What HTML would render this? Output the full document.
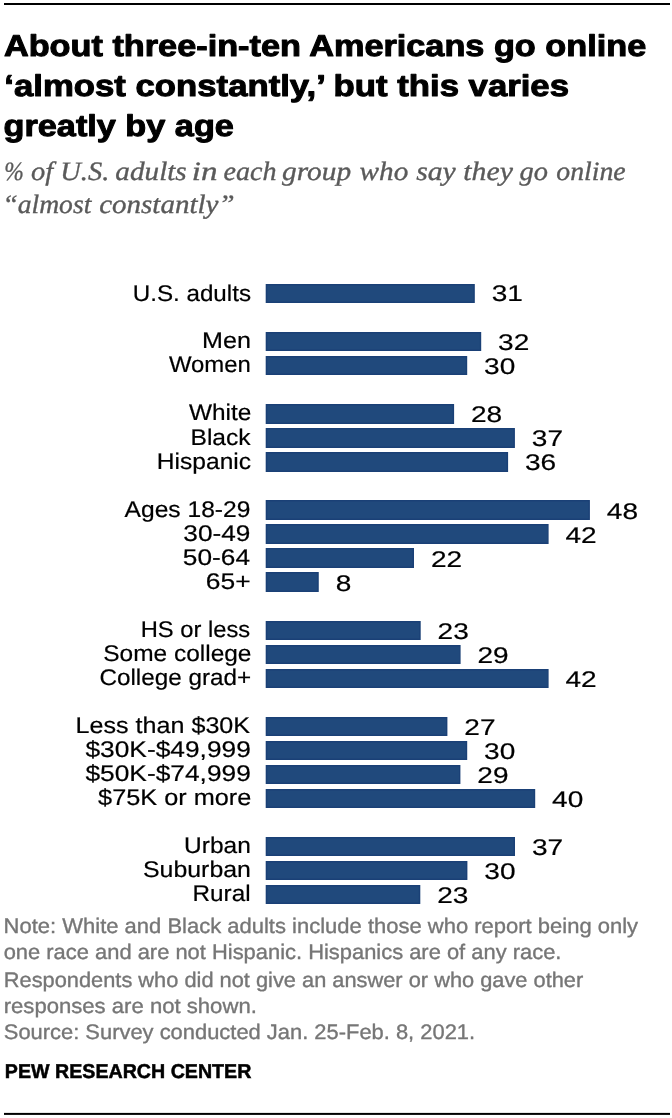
<!DOCTYPE html>
<html lang="en">
<head>
<meta charset="utf-8">
<title>About three-in-ten Americans go online almost constantly</title>
<style>
html,body{margin:0;padding:0;background:#fff;}
body{width:672px;height:1118px;overflow:hidden;}
svg{display:block;}
text{font-family:"Liberation Sans",sans-serif;text-rendering:geometricPrecision;}
.ttl{font-weight:bold;font-size:30.2px;fill:#000;stroke:#000;stroke-width:1px;stroke-linejoin:round;}
.sub{font-family:"Liberation Serif","DejaVu Serif",serif;font-style:italic;font-size:26.5px;fill:#5a5a5a;stroke:#5a5a5a;stroke-width:0.35px;}
.lab{font-size:22.7px;fill:#000;stroke:#000;stroke-width:0.2px;}
.note{font-size:21px;fill:#767676;stroke:#767676;stroke-width:0.35px;}
.pew{font-weight:bold;font-size:20px;fill:#000;stroke:#000;stroke-width:0.5px;}
.bar{fill:#20497c;stroke:#1a4076;stroke-width:1.4px;}
</style>
</head>
<body>
<svg width="672" height="1118" viewBox="0 0 672 1118">
<rect x="0" y="0" width="672" height="1118" fill="#ffffff"/>
<rect x="4" y="3" width="666" height="2" fill="#000"/>
<rect x="4" y="1112.9" width="666" height="2" fill="#000"/>
<g class="bars">
<rect class="bar" x="266.40" y="284.7" width="207.70" height="17.6"/>
<rect class="bar" x="266.40" y="332.7" width="214.10" height="17.6"/>
<rect class="bar" x="266.40" y="356.7" width="200.10" height="17.6"/>
<rect class="bar" x="266.40" y="404.7" width="187.00" height="18.6"/>
<rect class="bar" x="266.40" y="428.7" width="247.80" height="18.6"/>
<rect class="bar" x="266.40" y="452.7" width="241.00" height="18.6"/>
<rect class="bar" x="266.40" y="500.7" width="322.80" height="18.6"/>
<rect class="bar" x="266.40" y="524.7" width="281.50" height="18.6"/>
<rect class="bar" x="266.40" y="548.7" width="146.90" height="18.6"/>
<rect class="bar" x="266.40" y="572.7" width="51.65" height="18.6"/>
<rect class="bar" x="266.40" y="621.7" width="153.60" height="17.6"/>
<rect class="bar" x="266.40" y="645.7" width="193.50" height="17.6"/>
<rect class="bar" x="266.40" y="669.7" width="281.50" height="17.6"/>
<rect class="bar" x="266.40" y="717.7" width="180.30" height="17.6"/>
<rect class="bar" x="266.40" y="741.7" width="200.10" height="17.6"/>
<rect class="bar" x="266.40" y="765.7" width="193.30" height="17.6"/>
<rect class="bar" x="266.40" y="789.7" width="268.10" height="17.6"/>
<rect class="bar" x="266.40" y="837.7" width="247.90" height="17.6"/>
<rect class="bar" x="266.40" y="861.7" width="200.30" height="17.6"/>
<rect class="bar" x="266.40" y="885.7" width="153.20" height="17.6"/>
</g>
<g class="heading">
<text id="t1" class="ttl" x="3.95" y="56.40" textLength="642.29" lengthAdjust="spacingAndGlyphs">About three-in-ten Americans go online</text>
<text id="t2" class="ttl" x="4.39" y="96.40" textLength="564.61" lengthAdjust="spacingAndGlyphs">‘almost constantly,’ but this varies</text>
<text id="t3" class="ttl" x="3.54" y="136.40" textLength="230.35" lengthAdjust="spacingAndGlyphs">greatly by age</text>
<text id="s1_0" class="sub" x="4.28" y="180.40" textLength="19.51" lengthAdjust="spacingAndGlyphs">%</text>
<text id="s1_1" class="sub" x="31.06" y="180.40" textLength="78.28" lengthAdjust="spacingAndGlyphs">of U.S.</text>
<text id="s1_3" class="sub" x="115.39" y="180.40" textLength="71.36" lengthAdjust="spacingAndGlyphs">adults</text>
<text id="s1_4" class="sub" x="191.71" y="180.40" textLength="25.70" lengthAdjust="spacingAndGlyphs">in</text>
<text id="s1_5" class="sub" x="223.43" y="180.40" textLength="53.03" lengthAdjust="spacingAndGlyphs">each</text>
<text id="s1_6" class="sub" x="282.11" y="180.40" textLength="69.04" lengthAdjust="spacingAndGlyphs">group</text>
<text id="s1_7" class="sub" x="359.59" y="180.40" textLength="48.73" lengthAdjust="spacingAndGlyphs">who</text>
<text id="s1_8" class="sub" x="416.19" y="180.40" textLength="39.55" lengthAdjust="spacingAndGlyphs">say</text>
<text id="s1_9" class="sub" x="463.37" y="180.40" textLength="49.55" lengthAdjust="spacingAndGlyphs">they</text>
<text id="s1_10" class="sub" x="519.42" y="180.40" textLength="28.44" lengthAdjust="spacingAndGlyphs">go</text>
<text id="s1_11" class="sub" x="556.24" y="180.40" textLength="69.47" lengthAdjust="spacingAndGlyphs">online</text>
<text id="s2_0" class="sub" x="2.41" y="212.60" textLength="88.90" lengthAdjust="spacingAndGlyphs">“almost</text>
<text id="s2_1" class="sub" x="99.20" y="212.60" textLength="135.37" lengthAdjust="spacingAndGlyphs">constantly”</text>
</g>
<g class="chart-labels">
<text id="l0" class="lab" x="132.75" y="301.00" textLength="118.22" lengthAdjust="spacingAndGlyphs">U.S. adults</text>
<text id="v0" class="lab" x="491.70" y="301.00" textLength="31.20" lengthAdjust="spacingAndGlyphs">31</text>
<text id="l1" class="lab" x="202.04" y="348.00" textLength="48.87" lengthAdjust="spacingAndGlyphs">Men</text>
<text id="v1" class="lab" x="498.10" y="350.00" textLength="31.20" lengthAdjust="spacingAndGlyphs">32</text>
<text id="l2" class="lab" x="168.92" y="372.00" textLength="81.91" lengthAdjust="spacingAndGlyphs">Women</text>
<text id="v2" class="lab" x="484.10" y="374.00" textLength="31.20" lengthAdjust="spacingAndGlyphs">30</text>
<text id="l3" class="lab" x="189.06" y="420.00" textLength="62.34" lengthAdjust="spacingAndGlyphs">White</text>
<text id="v3" class="lab" x="471.00" y="422.00" textLength="31.20" lengthAdjust="spacingAndGlyphs">28</text>
<text id="l4" class="lab" x="190.48" y="445.00" textLength="60.21" lengthAdjust="spacingAndGlyphs">Black</text>
<text id="v4" class="lab" x="531.80" y="446.00" textLength="31.20" lengthAdjust="spacingAndGlyphs">37</text>
<text id="l5" class="lab" x="156.89" y="469.00" textLength="94.20" lengthAdjust="spacingAndGlyphs">Hispanic</text>
<text id="v5" class="lab" x="525.00" y="470.00" textLength="31.20" lengthAdjust="spacingAndGlyphs">36</text>
<text id="l6" class="lab" x="124.61" y="517.00" textLength="125.74" lengthAdjust="spacingAndGlyphs">Ages 18-29</text>
<text id="v6" class="lab" x="606.80" y="519.00" textLength="31.20" lengthAdjust="spacingAndGlyphs">48</text>
<text id="l7" class="lab" x="183.37" y="541.00" textLength="66.97" lengthAdjust="spacingAndGlyphs">30-49</text>
<text id="v7" class="lab" x="565.50" y="543.00" textLength="31.20" lengthAdjust="spacingAndGlyphs">42</text>
<text id="l8" class="lab" x="182.86" y="565.00" textLength="67.12" lengthAdjust="spacingAndGlyphs">50-64</text>
<text id="v8" class="lab" x="430.90" y="567.00" textLength="31.20" lengthAdjust="spacingAndGlyphs">22</text>
<text id="l9" class="lab" x="205.86" y="589.00" textLength="44.80" lengthAdjust="spacingAndGlyphs">65+</text>
<text id="v9" class="lab" x="335.65" y="591.00" textLength="15.60" lengthAdjust="spacingAndGlyphs">8</text>
<text id="l10" class="lab" x="140.71" y="637.00" textLength="109.50" lengthAdjust="spacingAndGlyphs">HS or less</text>
<text id="v10" class="lab" x="437.60" y="639.00" textLength="31.20" lengthAdjust="spacingAndGlyphs">23</text>
<text id="l11" class="lab" x="103.23" y="661.00" textLength="148.26" lengthAdjust="spacingAndGlyphs">Some college</text>
<text id="v11" class="lab" x="477.50" y="663.00" textLength="31.20" lengthAdjust="spacingAndGlyphs">29</text>
<text id="l12" class="lab" x="99.40" y="685.00" textLength="151.72" lengthAdjust="spacingAndGlyphs">College grad+</text>
<text id="v12" class="lab" x="565.50" y="687.00" textLength="31.20" lengthAdjust="spacingAndGlyphs">42</text>
<text id="l13" class="lab" x="75.56" y="733.00" textLength="174.51" lengthAdjust="spacingAndGlyphs">Less than $30K</text>
<text id="v13" class="lab" x="464.30" y="735.00" textLength="31.20" lengthAdjust="spacingAndGlyphs">27</text>
<text id="l14" class="lab" x="85.41" y="757.00" textLength="165.42" lengthAdjust="spacingAndGlyphs">$30K-$49,999</text>
<text id="v14" class="lab" x="484.10" y="759.00" textLength="31.20" lengthAdjust="spacingAndGlyphs">30</text>
<text id="l15" class="lab" x="85.41" y="781.00" textLength="165.42" lengthAdjust="spacingAndGlyphs">$50K-$74,999</text>
<text id="v15" class="lab" x="477.30" y="783.00" textLength="31.20" lengthAdjust="spacingAndGlyphs">29</text>
<text id="l16" class="lab" x="98.09" y="805.00" textLength="153.21" lengthAdjust="spacingAndGlyphs">$75K or more</text>
<text id="v16" class="lab" x="552.10" y="807.00" textLength="31.20" lengthAdjust="spacingAndGlyphs">40</text>
<text id="l17" class="lab" x="184.05" y="853.00" textLength="66.71" lengthAdjust="spacingAndGlyphs">Urban</text>
<text id="v17" class="lab" x="531.90" y="855.00" textLength="31.20" lengthAdjust="spacingAndGlyphs">37</text>
<text id="l18" class="lab" x="143.02" y="877.00" textLength="107.90" lengthAdjust="spacingAndGlyphs">Suburban</text>
<text id="v18" class="lab" x="484.30" y="879.00" textLength="31.20" lengthAdjust="spacingAndGlyphs">30</text>
<text id="l19" class="lab" x="192.49" y="901.00" textLength="58.07" lengthAdjust="spacingAndGlyphs">Rural</text>
<text id="v19" class="lab" x="437.20" y="903.00" textLength="31.20" lengthAdjust="spacingAndGlyphs">23</text>
</g>
<g class="footer">
<text id="n1" class="note" x="3.59" y="932.90" textLength="634.50" lengthAdjust="spacingAndGlyphs">Note: White and Black adults include those who report being only</text>
<text id="n2" class="note" x="3.68" y="958.80" textLength="557.75" lengthAdjust="spacingAndGlyphs">one race and are not Hispanic. Hispanics are of any race.</text>
<text id="n3" class="note" x="3.79" y="986.70" textLength="579.49" lengthAdjust="spacingAndGlyphs">Respondents who did not give an answer or who gave other</text>
<text id="n4" class="note" x="3.70" y="1012.80" textLength="253.14" lengthAdjust="spacingAndGlyphs">responses are not shown.</text>
<text id="n5" class="note" x="3.79" y="1038.80" textLength="471.34" lengthAdjust="spacingAndGlyphs">Source: Survey conducted Jan. 25-Feb. 8, 2021.</text>
<text id="p1" class="pew" x="4.85" y="1078.40" textLength="246.51" lengthAdjust="spacingAndGlyphs">PEW RESEARCH CENTER</text>
</g>
</svg>
</body>
</html>
